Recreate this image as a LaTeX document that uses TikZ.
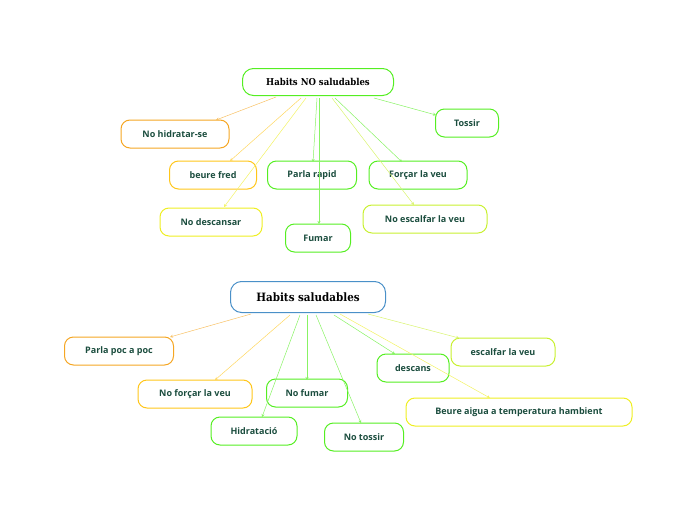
\documentclass[tikz,border=0pt]{standalone}
\usepackage{fontspec}
\setmainfont{Open Sans}
\newfontfamily\titlefont{DejaVu Serif Condensed}
\usetikzlibrary{arrows.meta}
\definecolor{txt}{HTML}{1B4D3E}
\definecolor{corange}{HTML}{F5A623}
\definecolor{cgold}{HTML}{FFC61A}
\definecolor{cyel}{HTML}{EEEE22}
\definecolor{cgreen}{HTML}{55EE22}
\definecolor{clime}{HTML}{C8F030}
\definecolor{cblue}{HTML}{4A90C8}
\tikzset{
 box/.style={draw=#1, line width=1pt, rounded corners=9pt, minimum height=28pt, text=txt, font=\bfseries\fontsize{9}{11}\selectfont, inner sep=0pt},
 ttl/.style={draw=#1, line width=1pt, rounded corners=11pt, minimum height=28pt, font=\titlefont\bfseries\fontsize{9.5}{11}\selectfont, inner sep=0pt},
 edge/.style={draw=#1!70, line width=0.5pt, -{Stealth[length=3pt,width=3pt]}},
}
\begin{document}
\begin{tikzpicture}[x=1pt,y=-1pt]
\useasboundingbox (0,0) rectangle (697,520);
% top
\node[ttl=cgreen, minimum width=151pt, minimum height=27pt] (t1) at (318,82) {Habits NO saludables};
\node[box=corange, minimum width=108pt] (a1) at (175,134) {No hidratar-se};
\node[box=cgreen, minimum width=63pt] (a2) at (467,123) {Tossir};
\node[box=cgold, minimum width=87pt] (a3) at (213,175) {beure fred};
\node[box=cgreen, minimum width=89pt] (a4) at (312,175) {Parla rapid};
\node[box=cgreen, minimum width=98pt] (a5) at (418,175) {Forçar la veu};
\node[box=cyel, minimum width=102pt] (a6) at (211,222) {No descansar};
\node[box=cgreen, minimum width=65pt] (a7) at (318,238) {Fumar};
\node[box=clime, minimum width=124pt] (a8) at (425,219) {No escalfar la veu};
\coordinate (e1) at (216,120); \coordinate (e2) at (436,115);
\coordinate (e3) at (230,161); \coordinate (e4) at (313,162);
\coordinate (e5) at (402,162); \coordinate (e6) at (224,207);
\coordinate (e7) at (319,224); \coordinate (e8) at (414,205);
\draw[edge=corange] (276,97) -- (e1);
\draw[edge=cgreen] (374,98) -- (e2);
\draw[edge=cgold] (301,98) -- (e3);
\draw[edge=cgreen] (317,98) -- (e4);
\draw[edge=cgreen] (335,98) -- (e5);
\draw[edge=cyel] (306,98) -- (e6);
\draw[edge=cgreen] (319,98) -- (e7);
\draw[edge=clime] (332,98) -- (e8);
% bottom
\node[ttl=cblue, minimum width=155pt, minimum height=31pt, font=\titlefont\bfseries\fontsize{11.5}{13}\selectfont] (t2) at (308,297) {Habits saludables};
\node[box=corange, minimum width=109pt] (b1) at (119,351) {Parla poc a poc};
\node[box=cgold, minimum width=114pt] (b2) at (195,394) {No forçar la veu};
\node[box=cgreen, minimum width=86pt] (b3) at (254,431) {Hidratació};
\node[box=cgreen, minimum width=81pt] (b4) at (307,393) {No fumar};
\node[box=cgreen, minimum width=79pt] (b5) at (364,437) {No tossir};
\node[box=cgreen, minimum width=72pt] (b6) at (413,368) {descans};
\node[box=cyel, minimum width=226pt] (b7) at (519,412) {Beure aigua a temperatura hambient};
\node[box=clime, minimum width=104pt] (b8) at (503,352) {escalfar la veu};
\coordinate (f1) at (170,337); \coordinate (f2) at (215,380);
\coordinate (f3) at (262,417); \coordinate (f4) at (307,380);
\coordinate (f5) at (361,423); \coordinate (f6) at (395,354);
\coordinate (f7) at (490,398); \coordinate (f8) at (459,338);
\draw[edge=corange] (251,314) -- (f1);
\draw[edge=cgold] (290,315) -- (f2);
\draw[edge=cgreen] (300,315) -- (f3);
\draw[edge=cgreen] (307,315) -- (f4);
\draw[edge=cgreen] (316,315) -- (f5);
\draw[edge=cgreen] (334,315) -- (f6);
\draw[edge=cyel] (340,314) -- (f7);
\draw[edge=clime] (368,314) -- (f8);
\end{tikzpicture}
\end{document}
